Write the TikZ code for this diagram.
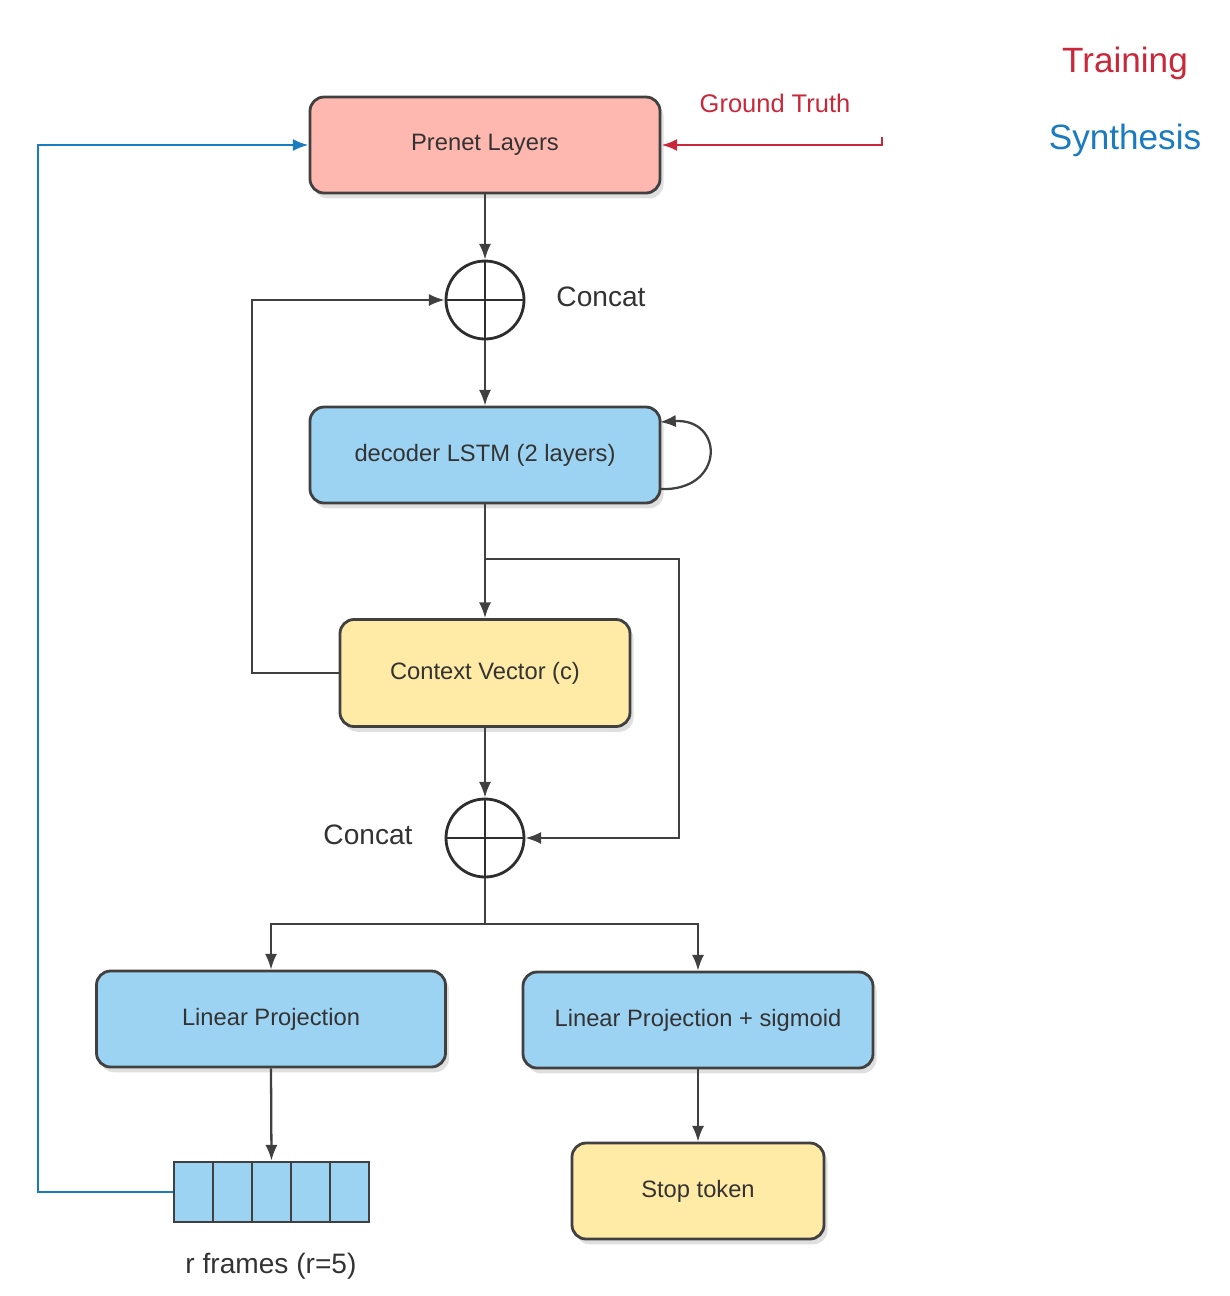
\documentclass[tikz,border=0pt]{standalone}
\usepackage{fontspec}
\setmainfont{Liberation Sans}
\usetikzlibrary{arrows.meta,shadows}
\definecolor{lc}{HTML}{404040}
\definecolor{pink}{HTML}{FFB8B0}
\definecolor{lblue}{HTML}{9DD3F2}
\definecolor{lyel}{HTML}{FFEAA6}
\definecolor{tred}{HTML}{C8283A}
\definecolor{tblue}{HTML}{1A7BC0}
\begin{document}
\begin{tikzpicture}[x=0.02cm,y=-0.02cm,
  box/.style={draw=lc,line width=1.6pt,rounded corners=8pt,minimum width=#1*0.02cm,minimum height=96*0.02cm,font=\fontsize{13.5}{16}\selectfont,text=lc!80!black,drop shadow={opacity=0.25,shadow xshift=2pt,shadow yshift=-3pt}},
  cc/.style={draw=lc!70!black,line width=1.6pt,circle,minimum size=78*0.02cm,inner sep=0pt,path picture={\draw[lc!70!black,line width=1.6pt] (path picture bounding box.north)--(path picture bounding box.south) (path picture bounding box.west)--(path picture bounding box.east);}},
  ar/.style={draw=lc,line width=1.3pt,-{Latex[length=9pt,width=7pt]}},
  lbl/.style={font=\fontsize{16}{19}\selectfont,text=lc!80!black}]
\useasboundingbox (0,0) rectangle (1230,1296);
\node[box=350,fill=pink] (pre) at (485,145) {Prenet Layers};
\node[cc] (c1) at (485,300) {};
\node[box=350,fill=lblue] (lstm) at (485,455) {decoder LSTM (2 layers)};
\node[box=290,fill=lyel,minimum height=107*0.02cm] (ctx) at (485,673) {Context Vector (c)};
\node[cc] (c2) at (485,838) {};
\node[box=349,fill=lblue] (lp) at (271,1019) {Linear Projection};
\node[box=350,fill=lblue] (lps) at (698,1020) {Linear Projection + sigmoid};
\node[box=252,fill=lyel] (stop) at (698,1191) {Stop token};
\node[draw=lc,line width=1.6pt,fill=lblue,minimum width=195*0.02cm,minimum height=60*0.02cm,inner sep=0pt] (fr) at (271.5,1192) {};
\foreach \i in {1,...,4} \draw[lc,line width=1.6pt] (174+39*\i,1162)--(174+39*\i,1222);
\node[lbl] (rf) at (271,1266) {r frames (r=5)};
\node[lbl] (cl1) at (601,297) {Concat};
\node[lbl] (cl2) at (368,835) {Concat};
\node[font=\fontsize{14.5}{17}\selectfont,text=tred] (gt) at (775,103) {Ground Truth};
\node[font=\fontsize{20}{24}\selectfont,text=tred] (tr) at (1125,63) {Training};
\node[font=\fontsize{20}{24}\selectfont,text=tblue] (sy) at (1125,140) {Synthesis};
\coordinate (gts) at (882,137);
\draw[draw=tred,line width=1.6pt,-{Latex[length=9pt,width=7pt]}] (gts)--(882,145)--(pre.east);
\draw[draw=tblue,line width=1.6pt,-{Latex[length=9pt,width=7pt]}] (fr.west)--(38,1192)--(38,145)--(pre.west);
\draw[ar] (pre.south)--(c1.north);
\draw[ar] (c1.south)--(lstm.north);
\draw[ar] (lstm.south)--(ctx.north);
\draw[ar] (ctx.west)--(252,673)--(252,300)--(c1.west);
\draw[ar] (485,559)--(679,559)--(679,838)--(c2.east);
\draw[ar] (ctx.south)--(c2.north);
\draw[ar] (c2.south)--(485,924)--(271,924)--(lp.north);
\draw[ar] (485,924)--(698,924)--(lps.north);
\draw[ar] (lp.south)--(fr.north);
\draw[ar] (lps.south)--(stop.north);
\draw[ar] (660,489) .. controls (725,492) and (725,418) .. (660,422);
\end{tikzpicture}
\end{document}
